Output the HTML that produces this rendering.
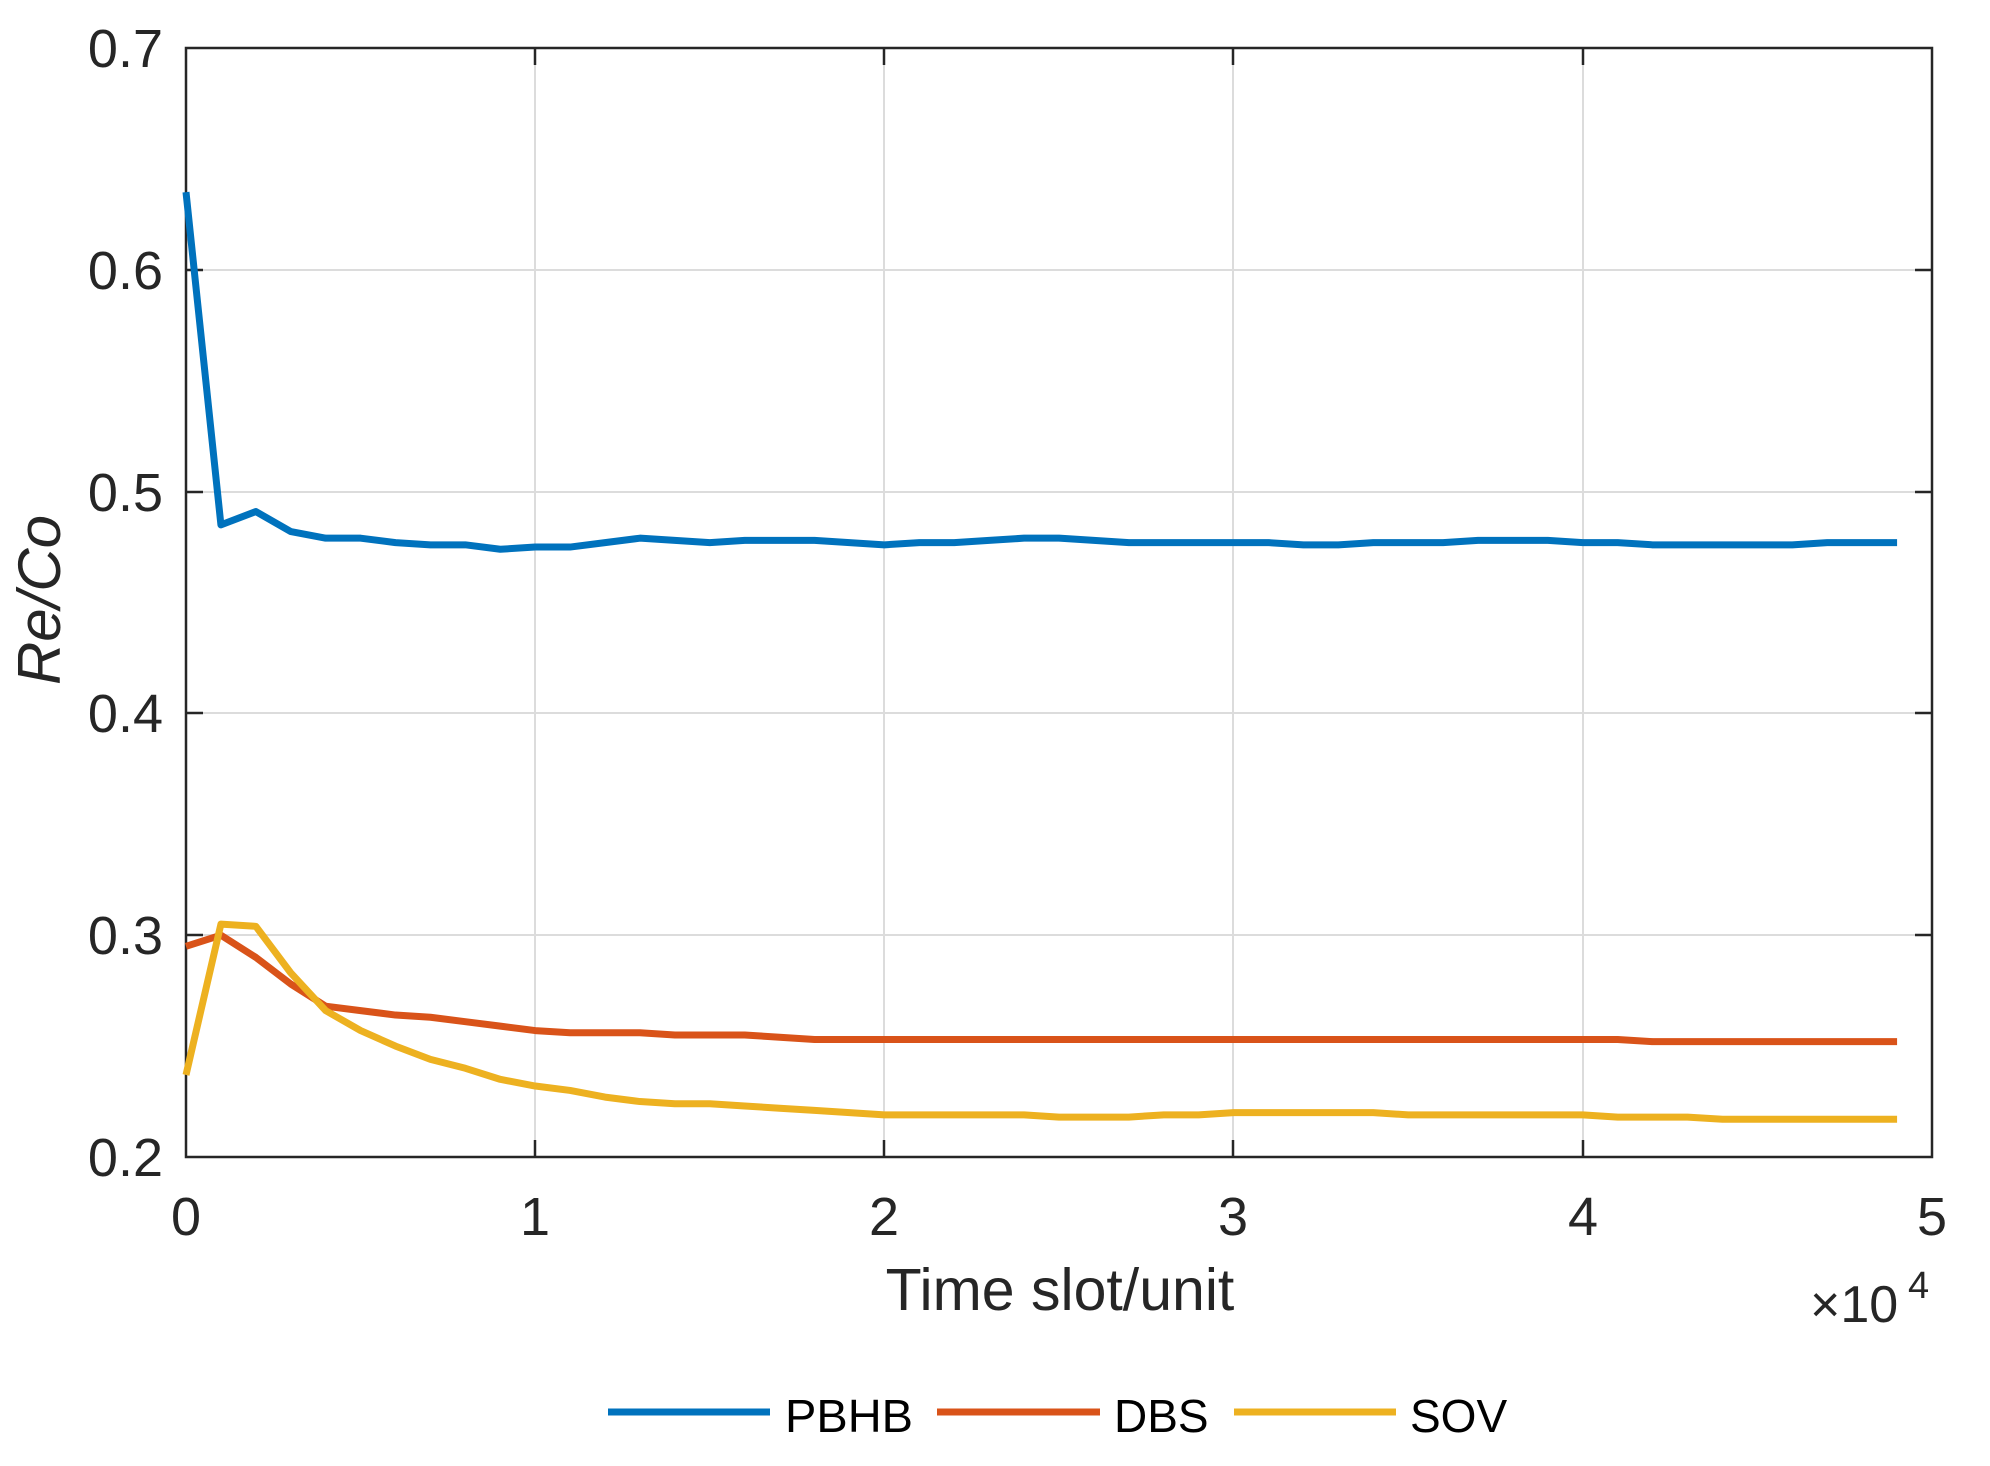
<!DOCTYPE html>
<html><head><meta charset="utf-8"><style>
html,body{margin:0;padding:0;background:#fff;}
svg{display:block;font-family:"Liberation Sans",Arial,sans-serif;}
</style></head><body>
<svg width="1990" height="1466" viewBox="0 0 1990 1466" xmlns="http://www.w3.org/2000/svg">
<rect width="1990" height="1466" fill="#fff"/>
<g stroke="#dcdcdc" stroke-width="2">
<line x1="535" y1="48" x2="535" y2="1157"/>
<line x1="884" y1="48" x2="884" y2="1157"/>
<line x1="1233" y1="48" x2="1233" y2="1157"/>
<line x1="1583" y1="48" x2="1583" y2="1157"/>
<line x1="186" y1="270" x2="1932" y2="270"/>
<line x1="186" y1="492" x2="1932" y2="492"/>
<line x1="186" y1="713" x2="1932" y2="713"/>
<line x1="186" y1="935" x2="1932" y2="935"/>
</g>
<g stroke="#262626" stroke-width="2.5">
<rect x="186" y="48" width="1746" height="1109" fill="none"/>
<line x1="535" y1="1157" x2="535" y2="1140"/><line x1="884" y1="1157" x2="884" y2="1140"/><line x1="1233" y1="1157" x2="1233" y2="1140"/><line x1="1583" y1="1157" x2="1583" y2="1140"/>
<line x1="535" y1="48" x2="535" y2="65"/><line x1="884" y1="48" x2="884" y2="65"/><line x1="1233" y1="48" x2="1233" y2="65"/><line x1="1583" y1="48" x2="1583" y2="65"/>
<line x1="186" y1="270" x2="203" y2="270"/><line x1="186" y1="492" x2="203" y2="492"/><line x1="186" y1="713" x2="203" y2="713"/><line x1="186" y1="935" x2="203" y2="935"/>
<line x1="1932" y1="270" x2="1915" y2="270"/><line x1="1932" y1="492" x2="1915" y2="492"/><line x1="1932" y1="713" x2="1915" y2="713"/><line x1="1932" y1="935" x2="1915" y2="935"/>
</g>
<g font-size="54" fill="#262626" text-anchor="end">
<text x="163" y="67">0.7</text><text x="163" y="289">0.6</text><text x="163" y="511">0.5</text><text x="163" y="732">0.4</text><text x="163" y="954">0.3</text><text x="163" y="1176">0.2</text>
</g>
<g font-size="54" fill="#262626" text-anchor="middle">
<text x="186" y="1235">0</text><text x="535" y="1235">1</text><text x="884" y="1235">2</text><text x="1233" y="1235">3</text><text x="1583" y="1235">4</text><text x="1932" y="1235">5</text>
</g>
<text x="1060" y="1310" font-size="59" fill="#262626" text-anchor="middle">Time slot/unit</text>
<text x="1810" y="1322" font-size="52" fill="#262626">×10</text>
<text x="1908" y="1298" font-size="38" fill="#262626">4</text>
<text transform="translate(60,600) rotate(-90)" font-size="60" font-style="italic" fill="#262626" text-anchor="middle">Re/Co</text>
<g transform="translate(186,1600.6) scale(34.92,-2218)" fill="none" stroke-width="7" stroke-linejoin="round">
<polyline vector-effect="non-scaling-stroke" stroke="#0072BD" points="0,.635 1,.485 2,.491 3,.482 4,.479 5,.479 6,.477 7,.476 8,.476 9,.474 10,.475 11,.475 12,.477 13,.479 14,.478 15,.477 16,.478 17,.478 18,.478 19,.477 20,.476 21,.477 22,.477 23,.478 24,.479 25,.479 26,.478 27,.477 28,.477 29,.477 30,.477 31,.477 32,.476 33,.476 34,.477 35,.477 36,.477 37,.478 38,.478 39,.478 40,.477 41,.477 42,.476 43,.476 44,.476 45,.476 46,.476 47,.477 48,.477 49,.477"/>
<polyline vector-effect="non-scaling-stroke" stroke="#D95319" points="0,.295 1,.300 2,.290 3,.278 4,.268 5,.266 6,.264 7,.263 8,.261 9,.259 10,.257 11,.256 12,.256 13,.256 14,.255 15,.255 16,.255 17,.254 18,.253 19,.253 20,.253 21,.253 22,.253 23,.253 24,.253 25,.253 26,.253 27,.253 28,.253 29,.253 30,.253 31,.253 32,.253 33,.253 34,.253 35,.253 36,.253 37,.253 38,.253 39,.253 40,.253 41,.253 42,.252 43,.252 44,.252 45,.252 46,.252 47,.252 48,.252 49,.252"/>
<polyline vector-effect="non-scaling-stroke" stroke="#EDB120" points="0,.237 1,.305 2,.304 3,.283 4,.266 5,.257 6,.250 7,.244 8,.240 9,.235 10,.232 11,.230 12,.227 13,.225 14,.224 15,.224 16,.223 17,.222 18,.221 19,.220 20,.219 21,.219 22,.219 23,.219 24,.219 25,.218 26,.218 27,.218 28,.219 29,.219 30,.220 31,.220 32,.220 33,.220 34,.220 35,.219 36,.219 37,.219 38,.219 39,.219 40,.219 41,.218 42,.218 43,.218 44,.217 45,.217 46,.217 47,.217 48,.217 49,.217"/>
</g>
<g stroke-width="7">
<line x1="608" y1="1412" x2="770" y2="1412" stroke="#0072BD"/>
<line x1="937" y1="1412" x2="1100" y2="1412" stroke="#D95319"/>
<line x1="1234" y1="1412" x2="1396" y2="1412" stroke="#EDB120"/>
</g>
<g font-size="46" fill="#000">
<text x="785" y="1432" textLength="128" lengthAdjust="spacingAndGlyphs">PBHB</text>
<text x="1114" y="1432">DBS</text>
<text x="1410" y="1432">SOV</text>
</g>
</svg>
</body></html>
